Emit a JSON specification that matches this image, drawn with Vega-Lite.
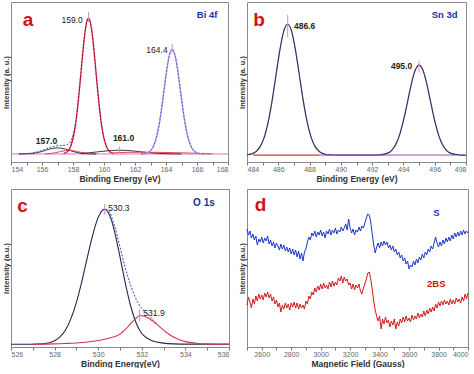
{
 "$schema": "https://vega.github.io/schema/vega-lite/v6.json",
 "background": "white",
 "padding": {"left": 1, "top": 1, "right": 0, "bottom": 0},
 "autosize": {"type": "pad"},
 "columns": 2,
 "bounds": "flush",
 "spacing": {"row": 27, "column": 18},
 "concat": [
  {
   "width": 217, "height": 160,
   "encoding": {
    "x": {"field": "x", "type": "quantitative", "scale": {"domain": [154, 168], "nice": false, "zero": false},
          "axis": {"title": "Binding Energy (eV)", "values": [154,155,156,157,158,159,160,161,162,163,164,165,166,167,168], "labelExpr": "datum.value % 2 === 0 ? datum.label : ''"}},
    "y": {"field": "y", "type": "quantitative", "scale": {"domain": [-0.059, 1.118], "nice": false, "zero": false},
          "axis": {"title": "Intensity (a. u.)", "labels": false, "ticks": false, "domain": false, "titlePadding": 1, "titleFontSize": 7.5}}
   },
   "layer": [
    {"data": {"name": "a_base"}, "mark": {"type": "line", "color": "#dd6fcc", "strokeWidth": 1}},
    {"data": {"name": "a_h161"}, "mark": {"type": "line", "color": "#222222", "strokeWidth": 0.9, "interpolate": "monotone"}},
    {"data": {"name": "a_red3"}, "mark": {"type": "line", "color": "#d23c3c", "strokeWidth": 0.9, "interpolate": "monotone"}},
    {"data": {"name": "a_h157"}, "mark": {"type": "line", "color": "#222222", "strokeWidth": 0.9, "interpolate": "monotone"}},
    {"data": {"name": "a_red2"}, "mark": {"type": "line", "color": "#d23c3c", "strokeWidth": 0.9, "interpolate": "monotone"}},
    {"data": {"name": "a_env"}, "mark": {"type": "line", "color": "#3f51b5", "strokeWidth": 1, "strokeDash": [2, 1.5], "interpolate": "monotone"}},
    {"data": {"name": "a_main"}, "mark": {"type": "line", "color": "#ef86ad", "strokeWidth": 1.8, "strokeDash": [2, 1.5], "interpolate": "monotone"}},
    {"data": {"name": "a_main"}, "mark": {"type": "line", "color": "#b8102f", "strokeWidth": 1.1, "interpolate": "monotone"}},
    {"data": {"name": "a_pk2"}, "mark": {"type": "line", "color": "#bdb0ee", "strokeWidth": 1.6, "interpolate": "monotone"}},
    {"data": {"name": "a_pk2"}, "mark": {"type": "line", "color": "#5f52c8", "strokeWidth": 1, "strokeDash": [2, 1.5], "interpolate": "monotone"}},
    {"data": {"name": "a_ticks"}, "mark": {"type": "rule", "color": "#e58bc0", "strokeWidth": 1}, "encoding": {"y2": {"field": "y2"}}},
    {"data": {"name": "a_letter"}, "mark": {"type": "text", "font": "Liberation Sans", "fontSize": 19, "fontWeight": "bold", "color": "#d01414"}, "encoding": {"text": {"field": "t"}}},
    {"data": {"name": "a_name"}, "mark": {"type": "text", "font": "Liberation Sans", "fontSize": 9.5, "fontWeight": "bold", "color": "#1f2fa0"}, "encoding": {"text": {"field": "t"}}},
    {"data": {"name": "a_pk_norm"}, "mark": {"type": "text", "font": "Liberation Sans", "fontSize": 8.5, "color": "#222222"}, "encoding": {"text": {"field": "t"}}},
    {"data": {"name": "a_pk_bold"}, "mark": {"type": "text", "font": "Liberation Sans", "fontSize": 8.5, "fontWeight": "bold", "color": "#222222"}, "encoding": {"text": {"field": "t"}}}
   ]
  },
  {
   "width": 219, "height": 160,
   "encoding": {
    "x": {"field": "x", "type": "quantitative", "scale": {"domain": [484, 498], "nice": false, "zero": false},
          "axis": {"title": "Binding Energy (eV)", "values": [484,485,486,487,488,489,490,491,492,493,494,495,496,497,498], "labelExpr": "datum.value % 2 === 0 ? datum.label : ''"}},
    "y": {"field": "y", "type": "quantitative", "scale": {"domain": [-0.053, 1.168], "nice": false, "zero": false},
          "axis": {"title": "Intensity (a. u.)", "labels": false, "ticks": false, "domain": false, "titlePadding": 1, "titleFontSize": 7.5}}
   },
   "layer": [
    {"data": {"name": "b_fit"}, "mark": {"type": "line", "color": "#22265e", "strokeWidth": 1.2, "interpolate": "monotone"}},
    {"data": {"name": "b_fit"}, "mark": {"type": "line", "color": "#c2569a", "strokeWidth": 0.6, "strokeOpacity": 0.55, "strokeDash": [2, 2], "interpolate": "monotone"}},
    {"data": {"name": "b_red"}, "mark": {"type": "line", "color": "#e03030", "strokeWidth": 1.2}},
    {"data": {"name": "b_mag"}, "mark": {"type": "line", "color": "#9c4fb0", "strokeWidth": 1}},
    {"data": {"name": "b_ticks"}, "mark": {"type": "rule", "color": "#e58bc0", "strokeWidth": 1}, "encoding": {"y2": {"field": "y2"}}},
    {"data": {"name": "b_letter"}, "mark": {"type": "text", "font": "Liberation Sans", "fontSize": 19, "fontWeight": "bold", "color": "#d01414"}, "encoding": {"text": {"field": "t"}}},
    {"data": {"name": "b_name"}, "mark": {"type": "text", "font": "Liberation Sans", "fontSize": 9.5, "fontWeight": "bold", "color": "#1f2fa0"}, "encoding": {"text": {"field": "t"}}},
    {"data": {"name": "b_pk_bold"}, "mark": {"type": "text", "font": "Liberation Sans", "fontSize": 8.5, "fontWeight": "bold", "color": "#222222"}, "encoding": {"text": {"field": "t"}}}
   ]
  },
  {
   "width": 218, "height": 158,
   "encoding": {
    "x": {"field": "x", "type": "quantitative", "scale": {"domain": [526, 536], "nice": false, "zero": false},
          "axis": {"title": "Binding Energy(eV)", "values": [526,527,528,529,530,531,532,533,534,535,536], "labelExpr": "datum.value % 2 === 0 ? datum.label : ''"}},
    "y": {"field": "y", "type": "quantitative", "scale": {"domain": [-0.02, 1.15], "nice": false, "zero": false},
          "axis": {"title": "Intensity (a.u.)", "labels": false, "ticks": false, "domain": false, "titlePadding": 1, "titleFontSize": 7.5}}
   },
   "layer": [
    {"data": {"name": "c_black"}, "mark": {"type": "line", "color": "#252550", "strokeWidth": 1.1, "interpolate": "monotone"}},
    {"data": {"name": "c_red"}, "mark": {"type": "line", "color": "#d0344a", "strokeWidth": 1.1, "interpolate": "monotone"}},
    {"data": {"name": "c_env"}, "mark": {"type": "line", "color": "#3a4ab5", "strokeWidth": 1, "strokeDash": [2, 1.5], "interpolate": "monotone"}},
    {"data": {"name": "c_ticks"}, "mark": {"type": "rule", "color": "#c98ac0", "strokeWidth": 1}, "encoding": {"y2": {"field": "y2"}}},
    {"data": {"name": "c_letter"}, "mark": {"type": "text", "font": "Liberation Sans", "fontSize": 19, "fontWeight": "bold", "color": "#d01414"}, "encoding": {"text": {"field": "t"}}},
    {"data": {"name": "c_name"}, "mark": {"type": "text", "font": "Liberation Sans", "fontSize": 10, "fontWeight": "bold", "color": "#1f2fa0"}, "encoding": {"text": {"field": "t"}}},
    {"data": {"name": "c_pk_norm"}, "mark": {"type": "text", "font": "Liberation Sans", "fontSize": 8.5, "color": "#222222"}, "encoding": {"text": {"field": "t"}}}
   ]
  },
  {
   "width": 221, "height": 158,
   "encoding": {
    "x": {"field": "x", "type": "quantitative", "scale": {"domain": [2500, 4000], "nice": false, "zero": false},
          "axis": {"title": "Magnetic Field (Gauss)", "format": "d", "values": [2500,2600,2700,2800,2900,3000,3100,3200,3300,3400,3500,3600,3700,3800,3900,4000], "labelExpr": "datum.value % 200 === 0 ? datum.label : ''"}},
    "y": {"field": "y", "type": "quantitative", "scale": {"domain": [2, 160], "nice": false, "zero": false},
          "axis": {"title": "Intensity (a.u.)", "labels": false, "ticks": false, "domain": false, "titlePadding": 1, "titleFontSize": 7.5}}
   },
   "layer": [
    {"data": {"name": "d_s"}, "mark": {"type": "line", "color": "#1d36c9", "strokeWidth": 1}},
    {"data": {"name": "d_b"}, "mark": {"type": "line", "color": "#d11a1a", "strokeWidth": 1}},
    {"data": {"name": "d_letter"}, "mark": {"type": "text", "font": "Liberation Sans", "fontSize": 19, "fontWeight": "bold", "color": "#d01414"}, "encoding": {"text": {"field": "t"}}},
    {"data": {"name": "d_lab_s"}, "mark": {"type": "text", "font": "Liberation Sans", "fontSize": 9.5, "fontWeight": "bold", "color": "#1f2fc0"}, "encoding": {"text": {"field": "t"}}},
    {"data": {"name": "d_lab_b"}, "mark": {"type": "text", "font": "Liberation Sans", "fontSize": 9.5, "fontWeight": "bold", "color": "#d01414"}, "encoding": {"text": {"field": "t"}}}
   ]
  }
 ],
 "datasets": {
  "a_base": [{"x":154,"y":0},{"x":168,"y":0}],
  "a_h161": [{"x":158.5,"y":0.0044},{"x":159,"y":0.0086},{"x":159.5,"y":0.0144},{"x":160,"y":0.0208},{"x":160.5,"y":0.026},{"x":161,"y":0.028},{"x":161.5,"y":0.026},{"x":162,"y":0.0208},{"x":162.5,"y":0.0144},{"x":163,"y":0.0086},{"x":163.5,"y":0.0044},{"x":164,"y":0.002},{"x":164.5,"y":0.0007},{"x":165,"y":0}],
  "a_red3": [{"x":160.5,"y":0.008},{"x":161.5,"y":0.012},{"x":162.5,"y":0.013},{"x":163.5,"y":0.012},{"x":164.5,"y":0.01},{"x":165.5,"y":0.007},{"x":166.5,"y":0.003},{"x":167,"y":0}],
  "a_h157": [{"x":154.5,"y":0.0002},{"x":155,"y":0.0013},{"x":155.5,"y":0.006},{"x":156,"y":0.0185},{"x":156.5,"y":0.036},{"x":157,"y":0.045},{"x":157.5,"y":0.036},{"x":158,"y":0.0185},{"x":158.5,"y":0.006},{"x":159,"y":0.0013},{"x":159.5,"y":0}],
  "a_red2": [{"x":156.2,"y":0},{"x":156.8,"y":0.008},{"x":157.2,"y":0.018},{"x":157.5,"y":0.025},{"x":157.8,"y":0.028},{"x":158.1,"y":0.022},{"x":158.5,"y":0.012},{"x":159,"y":0.004},{"x":159.5,"y":0}],
  "a_env": [{"x":154.5,"y":0.001},{"x":155,"y":0.003},{"x":155.5,"y":0.01},{"x":156,"y":0.026},{"x":156.5,"y":0.047},{"x":157,"y":0.06},{"x":157.3,"y":0.062},{"x":157.6,"y":0.068},{"x":157.8,"y":0.085},{"x":158,"y":0.14},{"x":158.15,"y":0.22}],
  "a_main": [{"x":157.4,"y":0.004},{"x":157.6,"y":0.014},{"x":157.8,"y":0.044},{"x":158,"y":0.114},{"x":158.1,"y":0.172},{"x":158.2,"y":0.249},{"x":158.3,"y":0.345},{"x":158.4,"y":0.458},{"x":158.5,"y":0.581},{"x":158.6,"y":0.707},{"x":158.7,"y":0.823},{"x":158.8,"y":0.917},{"x":158.9,"y":0.979},{"x":159,"y":1},{"x":159.1,"y":0.979},{"x":159.2,"y":0.917},{"x":159.3,"y":0.823},{"x":159.4,"y":0.707},{"x":159.5,"y":0.581},{"x":159.6,"y":0.458},{"x":159.7,"y":0.345},{"x":159.8,"y":0.249},{"x":159.9,"y":0.172},{"x":160,"y":0.114},{"x":160.2,"y":0.044},{"x":160.4,"y":0.014},{"x":160.6,"y":0.004}],
  "a_pk2": [{"x":162.4,"y":0.0006},{"x":162.6,"y":0.0024},{"x":162.8,"y":0.0081},{"x":163,"y":0.0235},{"x":163.2,"y":0.059},{"x":163.4,"y":0.13},{"x":163.5,"y":0.182},{"x":163.6,"y":0.246},{"x":163.7,"y":0.322},{"x":163.8,"y":0.406},{"x":163.9,"y":0.493},{"x":164,"y":0.579},{"x":164.1,"y":0.656},{"x":164.2,"y":0.717},{"x":164.3,"y":0.756},{"x":164.4,"y":0.77},{"x":164.5,"y":0.756},{"x":164.6,"y":0.717},{"x":164.7,"y":0.656},{"x":164.8,"y":0.579},{"x":164.9,"y":0.493},{"x":165,"y":0.406},{"x":165.1,"y":0.322},{"x":165.2,"y":0.246},{"x":165.3,"y":0.182},{"x":165.4,"y":0.13},{"x":165.6,"y":0.059},{"x":165.8,"y":0.0235},{"x":166,"y":0.0081},{"x":166.2,"y":0.0024},{"x":166.4,"y":0.0006}],
  "a_ticks": [{"x":159,"y":0.97,"y2":1.045},{"x":164.4,"y":0.745,"y2":0.81},{"x":157,"y":0.035,"y2":0.075},{"x":161,"y":0.012,"y2":0.055}],
  "a_letter": [{"x":155.1,"y":0.985,"t":"a"}],
  "a_name": [{"x":166.65,"y":1.02,"t":"Bi 4f"}],
  "a_pk_norm": [{"x":157.94,"y":0.985,"t":"159.0"},{"x":163.42,"y":0.768,"t":"164.4"}],
  "a_pk_bold": [{"x":156.29,"y":0.099,"t":"157.0"},{"x":161.26,"y":0.121,"t":"161.0"}],
  "b_fit": [{"x":484,"y":0},{"x":484.1,"y":0.004},{"x":484.35,"y":0.011},{"x":484.6,"y":0.029},{"x":484.85,"y":0.066},{"x":485.1,"y":0.135},{"x":485.35,"y":0.249},{"x":485.6,"y":0.411},{"x":485.85,"y":0.607},{"x":486.1,"y":0.801},{"x":486.35,"y":0.946},{"x":486.6,"y":1},{"x":486.85,"y":0.946},{"x":487.1,"y":0.801},{"x":487.35,"y":0.607},{"x":487.6,"y":0.411},{"x":487.85,"y":0.249},{"x":488.1,"y":0.135},{"x":488.35,"y":0.066},{"x":488.6,"y":0.029},{"x":488.85,"y":0.011},{"x":489.1,"y":0.004},{"x":489.6,"y":0.0003},{"x":490,"y":0},{"x":492,"y":0},{"x":492.5,"y":0.0017},{"x":493,"y":0.0146},{"x":493.25,"y":0.036},{"x":493.5,"y":0.078},{"x":493.75,"y":0.152},{"x":494,"y":0.262},{"x":494.25,"y":0.399},{"x":494.5,"y":0.54},{"x":494.75,"y":0.647},{"x":495,"y":0.687},{"x":495.25,"y":0.647},{"x":495.5,"y":0.54},{"x":495.75,"y":0.399},{"x":496,"y":0.262},{"x":496.25,"y":0.152},{"x":496.5,"y":0.078},{"x":496.75,"y":0.036},{"x":497,"y":0.0146},{"x":497.5,"y":0.0017},{"x":498,"y":0}],
  "b_red": [{"x":484.4,"y":0},{"x":488.7,"y":0}],
  "b_mag": [{"x":488.7,"y":0},{"x":497.3,"y":0}],
  "b_ticks": [{"x":486.6,"y":0.9,"y2":1.07},{"x":495,"y":0.63,"y2":0.72}],
  "b_letter": [{"x":484.77,"y":1.03,"t":"b"}],
  "b_name": [{"x":496.63,"y":1.07,"t":"Sn 3d"}],
  "b_pk_bold": [{"x":487.68,"y":0.985,"t":"486.6"},{"x":493.88,"y":0.68,"t":"495.0"}],
  "c_black": [{"x":526,"y":0},{"x":527,"y":0.0006},{"x":527.5,"y":0.004},{"x":528,"y":0.026},{"x":528.25,"y":0.055},{"x":528.5,"y":0.106},{"x":528.75,"y":0.19},{"x":529,"y":0.31},{"x":529.25,"y":0.466},{"x":529.5,"y":0.642},{"x":529.75,"y":0.811},{"x":530,"y":0.94},{"x":530.15,"y":0.985},{"x":530.3,"y":1},{"x":530.45,"y":0.98},{"x":530.6,"y":0.923},{"x":530.75,"y":0.835},{"x":531,"y":0.647},{"x":531.25,"y":0.448},{"x":531.5,"y":0.278},{"x":531.75,"y":0.154},{"x":532,"y":0.08},{"x":532.25,"y":0.045},{"x":532.5,"y":0.025},{"x":533,"y":0.009},{"x":533.5,"y":0.003},{"x":534,"y":0.001},{"x":536,"y":0}],
  "c_red": [{"x":527,"y":0.001},{"x":528,"y":0.003},{"x":528.5,"y":0.006},{"x":529,"y":0.01},{"x":529.5,"y":0.017},{"x":530,"y":0.028},{"x":530.5,"y":0.045},{"x":531,"y":0.075},{"x":531.25,"y":0.11},{"x":531.5,"y":0.155},{"x":531.75,"y":0.196},{"x":531.9,"y":0.213},{"x":532.05,"y":0.21},{"x":532.25,"y":0.198},{"x":532.5,"y":0.172},{"x":532.75,"y":0.14},{"x":533,"y":0.105},{"x":533.25,"y":0.075},{"x":533.5,"y":0.05},{"x":533.75,"y":0.032},{"x":534,"y":0.02},{"x":534.5,"y":0.008},{"x":535,"y":0.003},{"x":536,"y":0.001}],
  "c_env": [{"x":530.35,"y":1},{"x":530.5,"y":0.985},{"x":530.75,"y":0.875},{"x":531,"y":0.72},{"x":531.25,"y":0.56},{"x":531.5,"y":0.433},{"x":531.75,"y":0.33},{"x":532,"y":0.265},{"x":532.25,"y":0.225},{"x":532.5,"y":0.185},{"x":532.7,"y":0.15}],
  "c_ticks": [{"x":530.3,"y":0.96,"y2":1.04},{"x":531.9,"y":0.17,"y2":0.26}],
  "c_letter": [{"x":526.53,"y":1.024,"t":"c"}],
  "c_name": [{"x":534.85,"y":1.043,"t":"O 1s"}],
  "c_pk_norm": [{"x":530.95,"y":1.006,"t":"530.3"},{"x":532.56,"y":0.232,"t":"531.9"}],
  "d_s": [{"x":2500,"y":120},{"x":2510,"y":114},{"x":2520,"y":118},{"x":2530,"y":111},{"x":2540,"y":115},{"x":2550,"y":109},{"x":2560,"y":113},{"x":2570,"y":104},{"x":2580,"y":110},{"x":2590,"y":107},{"x":2600,"y":112},{"x":2610,"y":106},{"x":2620,"y":111},{"x":2630,"y":108},{"x":2640,"y":113},{"x":2650,"y":105},{"x":2660,"y":109},{"x":2670,"y":103},{"x":2680,"y":107},{"x":2690,"y":101},{"x":2700,"y":106},{"x":2710,"y":103},{"x":2720,"y":99},{"x":2730,"y":105},{"x":2740,"y":100},{"x":2750,"y":104},{"x":2760,"y":98},{"x":2770,"y":102},{"x":2780,"y":97},{"x":2790,"y":101},{"x":2800,"y":95},{"x":2810,"y":100},{"x":2820,"y":94},{"x":2830,"y":99},{"x":2840,"y":92},{"x":2850,"y":98},{"x":2860,"y":90},{"x":2870,"y":96},{"x":2880,"y":88},{"x":2890,"y":97},{"x":2900,"y":100},{"x":2910,"y":107},{"x":2920,"y":112},{"x":2930,"y":109},{"x":2940,"y":116},{"x":2950,"y":113},{"x":2960,"y":118},{"x":2970,"y":112},{"x":2980,"y":117},{"x":2990,"y":114},{"x":3000,"y":119},{"x":3010,"y":113},{"x":3020,"y":117},{"x":3030,"y":111},{"x":3040,"y":118},{"x":3050,"y":115},{"x":3060,"y":120},{"x":3070,"y":114},{"x":3080,"y":119},{"x":3090,"y":116},{"x":3100,"y":121},{"x":3110,"y":115},{"x":3120,"y":119},{"x":3130,"y":117},{"x":3140,"y":122},{"x":3150,"y":118},{"x":3160,"y":121},{"x":3170,"y":125},{"x":3180,"y":119},{"x":3190,"y":130},{"x":3200,"y":121},{"x":3210,"y":116},{"x":3220,"y":120},{"x":3230,"y":114},{"x":3240,"y":119},{"x":3250,"y":117},{"x":3260,"y":122},{"x":3270,"y":118},{"x":3280,"y":123},{"x":3290,"y":121},{"x":3300,"y":126},{"x":3310,"y":131},{"x":3320,"y":135},{"x":3330,"y":134},{"x":3340,"y":127},{"x":3350,"y":115},{"x":3360,"y":104},{"x":3370,"y":96},{"x":3380,"y":102},{"x":3390,"y":106},{"x":3400,"y":101},{"x":3410,"y":107},{"x":3420,"y":103},{"x":3430,"y":108},{"x":3440,"y":104},{"x":3450,"y":107},{"x":3460,"y":101},{"x":3470,"y":104},{"x":3480,"y":99},{"x":3490,"y":103},{"x":3500,"y":97},{"x":3510,"y":100},{"x":3520,"y":94},{"x":3530,"y":97},{"x":3540,"y":91},{"x":3550,"y":94},{"x":3560,"y":88},{"x":3570,"y":91},{"x":3580,"y":85},{"x":3590,"y":88},{"x":3600,"y":80},{"x":3610,"y":84},{"x":3620,"y":82},{"x":3630,"y":88},{"x":3640,"y":84},{"x":3650,"y":90},{"x":3660,"y":86},{"x":3670,"y":92},{"x":3680,"y":89},{"x":3690,"y":95},{"x":3700,"y":91},{"x":3710,"y":97},{"x":3720,"y":94},{"x":3730,"y":100},{"x":3740,"y":97},{"x":3750,"y":103},{"x":3760,"y":100},{"x":3770,"y":106},{"x":3780,"y":112},{"x":3790,"y":106},{"x":3800,"y":102},{"x":3810,"y":107},{"x":3820,"y":103},{"x":3830,"y":109},{"x":3840,"y":105},{"x":3850,"y":111},{"x":3860,"y":107},{"x":3870,"y":112},{"x":3880,"y":108},{"x":3890,"y":114},{"x":3900,"y":110},{"x":3910,"y":116},{"x":3920,"y":112},{"x":3930,"y":117},{"x":3940,"y":113},{"x":3950,"y":118},{"x":3960,"y":114},{"x":3970,"y":119},{"x":3980,"y":115},{"x":3990,"y":118},{"x":4000,"y":116}],
  "d_b": [{"x":2500,"y":44},{"x":2510,"y":52},{"x":2520,"y":47},{"x":2530,"y":41},{"x":2540,"y":50},{"x":2550,"y":45},{"x":2560,"y":53},{"x":2570,"y":48},{"x":2580,"y":55},{"x":2590,"y":50},{"x":2600,"y":54},{"x":2610,"y":49},{"x":2620,"y":56},{"x":2630,"y":52},{"x":2640,"y":57},{"x":2650,"y":51},{"x":2660,"y":55},{"x":2670,"y":48},{"x":2680,"y":52},{"x":2690,"y":45},{"x":2700,"y":49},{"x":2710,"y":42},{"x":2720,"y":46},{"x":2730,"y":37},{"x":2740,"y":44},{"x":2750,"y":40},{"x":2760,"y":46},{"x":2770,"y":41},{"x":2780,"y":45},{"x":2790,"y":39},{"x":2800,"y":46},{"x":2810,"y":42},{"x":2820,"y":47},{"x":2830,"y":41},{"x":2840,"y":46},{"x":2850,"y":40},{"x":2860,"y":45},{"x":2870,"y":41},{"x":2880,"y":44},{"x":2890,"y":40},{"x":2900,"y":48},{"x":2910,"y":45},{"x":2920,"y":53},{"x":2930,"y":50},{"x":2940,"y":57},{"x":2950,"y":54},{"x":2960,"y":61},{"x":2970,"y":57},{"x":2980,"y":63},{"x":2990,"y":59},{"x":3000,"y":65},{"x":3010,"y":60},{"x":3020,"y":66},{"x":3030,"y":61},{"x":3040,"y":64},{"x":3050,"y":60},{"x":3060,"y":67},{"x":3070,"y":62},{"x":3080,"y":68},{"x":3090,"y":63},{"x":3100,"y":67},{"x":3110,"y":64},{"x":3120,"y":71},{"x":3130,"y":68},{"x":3140,"y":73},{"x":3150,"y":66},{"x":3160,"y":72},{"x":3170,"y":68},{"x":3180,"y":70},{"x":3190,"y":64},{"x":3200,"y":66},{"x":3210,"y":60},{"x":3220,"y":65},{"x":3230,"y":59},{"x":3240,"y":64},{"x":3250,"y":61},{"x":3260,"y":65},{"x":3270,"y":58},{"x":3280,"y":55},{"x":3290,"y":61},{"x":3300,"y":65},{"x":3310,"y":70},{"x":3320,"y":76},{"x":3330,"y":77},{"x":3340,"y":70},{"x":3350,"y":60},{"x":3360,"y":48},{"x":3370,"y":39},{"x":3380,"y":33},{"x":3390,"y":28},{"x":3400,"y":33},{"x":3410,"y":20},{"x":3420,"y":30},{"x":3430,"y":25},{"x":3440,"y":32},{"x":3450,"y":26},{"x":3460,"y":29},{"x":3470,"y":22},{"x":3480,"y":28},{"x":3490,"y":24},{"x":3500,"y":30},{"x":3510,"y":20},{"x":3520,"y":27},{"x":3530,"y":23},{"x":3540,"y":30},{"x":3550,"y":26},{"x":3560,"y":32},{"x":3570,"y":27},{"x":3580,"y":33},{"x":3590,"y":28},{"x":3600,"y":31},{"x":3610,"y":27},{"x":3620,"y":34},{"x":3630,"y":29},{"x":3640,"y":33},{"x":3650,"y":30},{"x":3660,"y":36},{"x":3670,"y":31},{"x":3680,"y":35},{"x":3690,"y":32},{"x":3700,"y":38},{"x":3710,"y":33},{"x":3720,"y":39},{"x":3730,"y":35},{"x":3740,"y":41},{"x":3750,"y":37},{"x":3760,"y":42},{"x":3770,"y":38},{"x":3780,"y":45},{"x":3790,"y":41},{"x":3800,"y":47},{"x":3810,"y":43},{"x":3820,"y":48},{"x":3830,"y":44},{"x":3840,"y":49},{"x":3850,"y":45},{"x":3860,"y":48},{"x":3870,"y":44},{"x":3880,"y":50},{"x":3890,"y":45},{"x":3900,"y":49},{"x":3910,"y":45},{"x":3920,"y":51},{"x":3930,"y":47},{"x":3940,"y":50},{"x":3950,"y":46},{"x":3960,"y":52},{"x":3970,"y":48},{"x":3980,"y":55},{"x":3990,"y":50},{"x":4000,"y":56}],
  "d_letter": [{"x":2592,"y":144,"t":"d"}],
  "d_lab_s": [{"x":3785,"y":136,"t":"S"}],
  "d_lab_b": [{"x":3785,"y":65,"t":"2BS"}]
 },
 "config": {
  "view": {"stroke": "#8a8a8a", "strokeWidth": 1},
  "font": "Liberation Sans",
  "axis": {"labelFont": "Liberation Sans", "labelFontSize": 7, "labelColor": "#666666", "labelPadding": 0, "tickColor": "#777777", "tickSize": 3, "domainColor": "#8a8a8a", "titleFont": "Liberation Sans", "titleFontSize": 8.5, "titleFontWeight": "bold", "titleColor": "#333333", "titlePadding": 2, "grid": false, "labelOverlap": false}
 }
}
